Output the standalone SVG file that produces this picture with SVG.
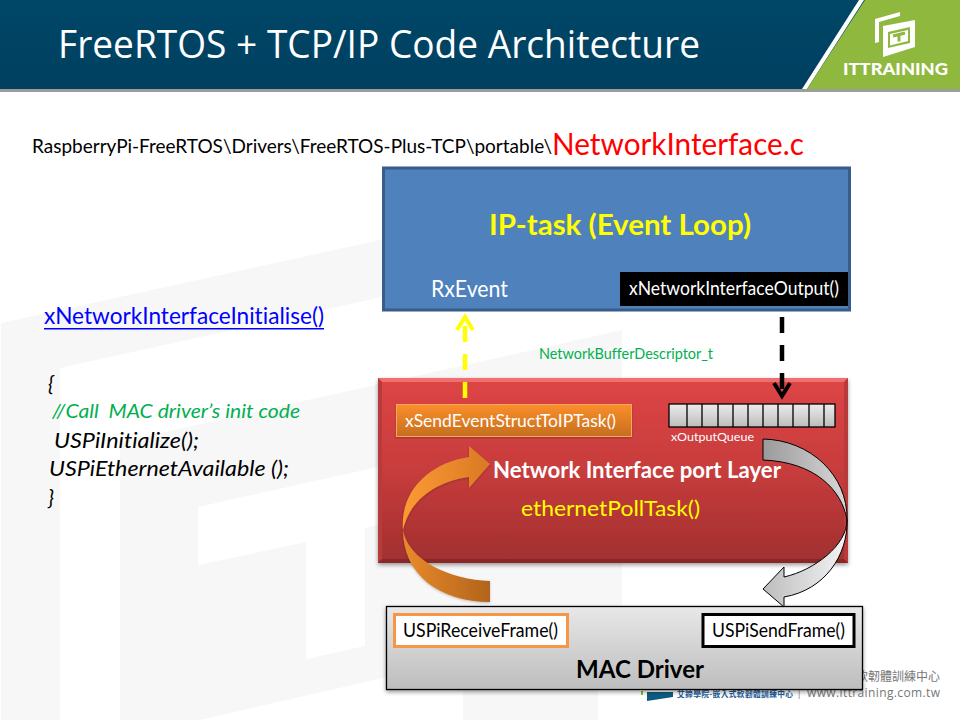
<svg xmlns="http://www.w3.org/2000/svg" width="960" height="720" viewBox="0 0 960 720">
<style>
text{font-family:"Lato","Liberation Sans",sans-serif;font-variant-ligatures:none}
.cjk{font-family:"Noto Sans CJK TC",sans-serif}
.code{font-style:italic;font-size:21px;fill:#000}
.wm{fill:#f7f7f7}
.cell{stroke:#000;stroke-width:1.3;fill:none}
</style>
<defs>
<linearGradient id="hdr" x1="0" y1="0" x2="0" y2="1"><stop offset="0" stop-color="#004767"/><stop offset="1" stop-color="#003f60"/></linearGradient>
<linearGradient id="red" x1="0" y1="0" x2="0" y2="1"><stop offset="0" stop-color="#de4546"/><stop offset="0.5" stop-color="#c73c3c"/><stop offset="1" stop-color="#a12f2f"/></linearGradient>
<linearGradient id="org" x1="0" y1="0" x2="0" y2="1"><stop offset="0" stop-color="#fb8f2b"/><stop offset="1" stop-color="#c56e1f"/></linearGradient>
<linearGradient id="cell" x1="0" y1="0" x2="0" y2="1"><stop offset="0" stop-color="#ececec"/><stop offset="1" stop-color="#bcbcbc"/></linearGradient>
<linearGradient id="mac" x1="0" y1="0" x2="0" y2="1"><stop offset="0" stop-color="#e8e8e8"/><stop offset="1" stop-color="#bdbdbd"/></linearGradient>
<linearGradient id="oa1" x1="0" y1="0" x2="1" y2="0"><stop offset="0" stop-color="#fd9a33"/><stop offset="1" stop-color="#d87a25"/></linearGradient>
<linearGradient id="oa2" x1="0" y1="0" x2="1" y2="0"><stop offset="0" stop-color="#e98a2b"/><stop offset="1" stop-color="#b2641c"/></linearGradient>
<linearGradient id="ga1" x1="0" y1="0" x2="1" y2="0"><stop offset="0" stop-color="#9a9a9a"/><stop offset="1" stop-color="#d8d8d8"/></linearGradient>
<linearGradient id="ga2" x1="0" y1="0" x2="1" y2="0"><stop offset="0" stop-color="#bdbdbd"/><stop offset="1" stop-color="#f4f4f4"/></linearGradient>
<filter id="sh" x="-5%" y="-5%" width="110%" height="112%"><feDropShadow dx="0" dy="2" stdDeviation="2" flood-color="#000" flood-opacity="0.4"/></filter>
<filter id="sh2" x="-5%" y="-5%" width="110%" height="112%"><feDropShadow dx="0" dy="1" stdDeviation="1" flood-color="#000" flood-opacity="0.25"/></filter>
<marker id="ay" markerUnits="userSpaceOnUse" markerWidth="24" markerHeight="24" refX="16" refY="10" orient="auto"><path d="M3,2 L16,10 L3,18" fill="none" stroke="#ffff00" stroke-width="4"/></marker>
<marker id="ak" markerUnits="userSpaceOnUse" markerWidth="24" markerHeight="24" refX="16" refY="10" orient="auto"><path d="M3,2 L16,10 L3,18" fill="none" stroke="#000" stroke-width="4"/></marker>
</defs>

<rect width="960" height="720" fill="#fff"/>
<g id="watermark">
<polygon class="wm" points="1,323 622,187 622,244 60,368 60,720 1,720"/>
<path class="wm" fill-rule="evenodd" d="M120,442 L622,330 L622,625 L387,677 L200,720 L120,720 Z M198,507 L378,467 L420,458 L420,515 L365,528 L365,646 L306,659 L306,542 L198,565 Z"/>
<rect class="wm" x="463" y="680" width="135" height="40"/>
</g>

<g id="header">
<rect x="0" y="0" width="960" height="90" fill="url(#hdr)"/>
<rect x="0" y="89" width="960" height="3" fill="#9c9c9c"/>
<polygon points="859,0 864,0 807,89 802,89" fill="#fff"/>
<polygon points="865,0 960,0 960,89 807,89" fill="#8fb93e"/>
<text x="58" y="58" font-size="38" fill="#fff" textLength="642" lengthAdjust="spacingAndGlyphs" style="font-family:'Open Sans',sans-serif">FreeRTOS + TCP/IP Code Architecture</text>
<g id="logo">
<polygon points="875,19 900,12 900,16 879,22 879,42 875,43" fill="#fff"/>
<polygon points="883,26 915,20 915,47 883,57" fill="#fff"/>
<polygon points="888,32 910,27 910,43 888,48" fill="#8fb93e"/>
<polygon points="890,34 908,30 908,41 890,45.500" fill="#fff"/>
<path d="M893,36 L905,33 M899,34.500 V41.500" fill="none" stroke="#8fb93e" stroke-width="3"/>
<text x="843" y="75" font-size="17" font-weight="900" fill="#fff" textLength="105" lengthAdjust="spacingAndGlyphs">ITTRAINING</text>
</g>
</g>

<g id="footer">
<text class="cjk" x="856" y="681" font-size="12" fill="#777" textLength="84">軟韌體訓練中心</text>
<polygon points="647,692 673,692 673,697 647,701" fill="#0d5a80"/>
<rect x="641" y="691" width="2" height="4" fill="#8fb93e"/>
<text class="cjk" x="677" y="696.500" font-size="7.700" font-weight="700" fill="#1a5a9a" textLength="116">艾鍗學院-嵌入式軟韌體訓練中心</text>
<text x="798" y="697" font-size="9" fill="#777">|</text>
<text x="807" y="697" font-size="12" fill="#777" textLength="133" style="font-family:'Open Sans',sans-serif">www.ittraining.com.tw</text>
</g>

<g id="path-label">
<text x="32" y="153" font-size="20" fill="#000" textLength="520" lengthAdjust="spacingAndGlyphs">RaspberryPi-FreeRTOS\Drivers\FreeRTOS-Plus-TCP\portable\</text>
<text x="552" y="154.500" font-size="31" fill="#ff0000" textLength="252" lengthAdjust="spacingAndGlyphs">NetworkInterface.c</text>
</g>

<g id="init-code">
<text x="44" y="324" font-size="23" fill="#0000ff" textLength="280" lengthAdjust="spacingAndGlyphs">xNetworkInterfaceInitialise()</text>
<rect x="44" y="328" width="280" height="1.500" fill="#0000ff"/>
<text class="code" x="48" y="391">{</text>
<text class="code" x="52" y="418" style="font-size:19px;fill:#00b050;white-space:pre" textLength="248" lengthAdjust="spacingAndGlyphs">//Call  MAC driver’s init code</text>
<text class="code" x="54" y="447.500" textLength="145" lengthAdjust="spacingAndGlyphs">USPiInitialize();</text>
<text class="code" x="49" y="476" textLength="240" lengthAdjust="spacingAndGlyphs">USPiEthernetAvailable ();</text>
<text class="code" x="48" y="505">}</text>
</g>

<g id="ip-task">
<rect x="383.500" y="168" width="466" height="142" fill="#4f81bd" stroke="#385d8a" stroke-width="3"/>
<text x="489" y="235" font-size="29" font-weight="700" fill="#ffff00" textLength="262" lengthAdjust="spacingAndGlyphs">IP-task (Event Loop)</text>
<text x="431" y="297" font-size="23" fill="#fff" textLength="77" lengthAdjust="spacingAndGlyphs">RxEvent</text>
</g>
<g id="xNetworkInterfaceOutput">
<rect x="620" y="272" width="228" height="34" fill="#000"/>
<text x="629" y="295" font-size="19.500" fill="#fff" textLength="210" lengthAdjust="spacingAndGlyphs">xNetworkInterfaceOutput()</text>
</g>

<g id="port-layer">
<rect x="378" y="378" width="470" height="185" fill="url(#red)" filter="url(#sh)"/>
<polygon points="378,378 848,378 844,382 382,382" fill="#f07070"/>
<polygon points="378,378 382,382 382,559 378,563" fill="#b93a3a"/>
<polygon points="848,378 844,382 844,559 848,563" fill="#b93a3a"/>
<polygon points="378,563 382,559 844,559 848,563" fill="#8a2828"/>
<text x="493" y="478" font-size="22" font-weight="700" fill="#fff" textLength="288" lengthAdjust="spacingAndGlyphs">Network Interface port Layer</text>
<text x="521" y="516" font-size="22" fill="#ffff00" textLength="179" lengthAdjust="spacingAndGlyphs">ethernetPollTask()</text>
</g>
<g id="xSendEventStructToIPTask">
<rect x="396.500" y="404.500" width="235" height="32" fill="url(#org)" stroke="#f9a85c" stroke-width="1" filter="url(#sh2)"/>
<text x="405" y="427" font-size="18" fill="#fff" textLength="211" lengthAdjust="spacingAndGlyphs">xSendEventStructToIPTask()</text>
</g>
<g id="xOutputQueue">
<rect x="669" y="404" width="166" height="23" fill="url(#cell)" stroke="#000" stroke-width="1.300"/>
<path class="cell" d="M687,404V427M702,404V427M718,404V427M733,404V427M748,404V427M763,404V427M778,404V427M793,404V427M809,404V427M824,404V427"/>
<text x="671" y="441" font-size="12" fill="#fff" textLength="83" lengthAdjust="spacingAndGlyphs">xOutputQueue</text>
</g>

<g id="mac-driver">
<rect x="386.500" y="606.500" width="476" height="83" fill="url(#mac)" stroke="#000" stroke-width="1.300" filter="url(#sh)"/>
<text x="576" y="678" font-size="25" font-weight="700" fill="#000" textLength="128" lengthAdjust="spacingAndGlyphs">MAC Driver</text>
</g>
<g id="USPiReceiveFrame">
<rect x="394.500" y="614.500" width="173" height="32" fill="#fff" stroke="#f79646" stroke-width="3"/>
<text x="403" y="636.500" font-size="18.500" fill="#000" textLength="155" lengthAdjust="spacingAndGlyphs">USPiReceiveFrame()</text>
</g>
<g id="USPiSendFrame">
<rect x="703" y="614.500" width="151" height="32" fill="#fff" stroke="#000" stroke-width="3"/>
<text x="712" y="636.500" font-size="18.500" fill="#000" textLength="133" lengthAdjust="spacingAndGlyphs">USPiSendFrame()</text>
</g>

<g id="connectors">
<line x1="465" y1="398" x2="465" y2="317" stroke="#ffff00" stroke-width="4.500" stroke-dasharray="16 12" marker-end="url(#ay)"/>
<text x="539" y="359" font-size="14.500" fill="#00b050" textLength="174" lengthAdjust="spacingAndGlyphs">NetworkBufferDescriptor_t</text>
<line x1="782" y1="317" x2="782" y2="396" stroke="#000" stroke-width="4.500" stroke-dasharray="16 12" marker-end="url(#ak)"/>
<g id="orange-arrow" filter="url(#sh2)">
<path d="M403,530 C408,560 450,580 490,581 L490,602 C440,602 403,575 403,530 Z" fill="url(#oa2)"/>
<path d="M469,457 L469,446 L490,464 L469,488 L469,477 C435,482 410,500 403,530 C400,490 430,463 469,457 Z" fill="url(#oa1)"/>
</g>
<g id="gray-arrow" stroke="#000" stroke-width="1" stroke-linejoin="miter">
<path d="M847,520 C848,555 825,590 784,597 L784,607 L763,589 L784,567 L784,577 C815,570 847,545 847,520 Z" fill="url(#ga2)"/>
<path d="M763,439 C810,440 848,475 847,520 C842,490 815,462 763,460 Z" fill="url(#ga1)"/>
</g>
</g>
</svg>
